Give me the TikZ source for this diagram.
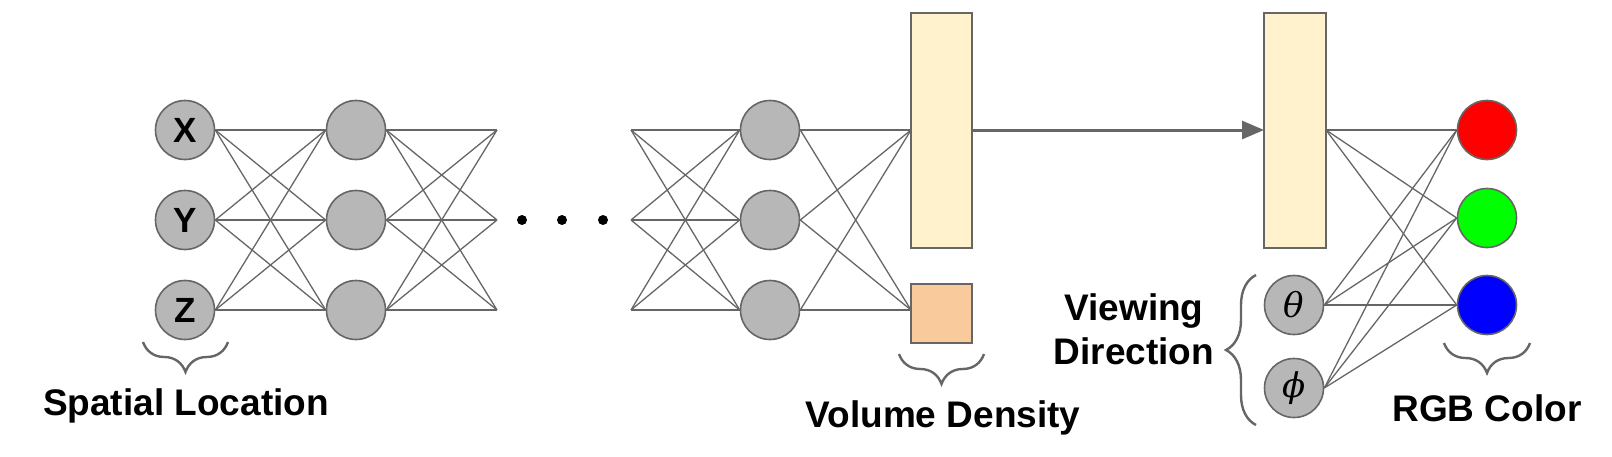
\documentclass[tikz,border=0pt]{standalone}
\usepackage{fontspec}
\setmainfont{Liberation Sans}
\newfontfamily\grk{DejaVu Serif}
\usetikzlibrary{decorations.pathreplacing,arrows.meta}
\definecolor{ln}{HTML}{666666}
\definecolor{nf}{HTML}{B7B7B7}
\begin{document}
\begin{tikzpicture}[x=1pt,y=-1pt,
  neu/.style={circle,draw=ln,line width=1.6pt,fill=nf,minimum size=59pt,inner sep=0pt},
  nl/.style={font=\fontsize{35}{35}\selectfont\bfseries},
  gl/.style={font=\fontsize{34}{34}\selectfont\grk\itshape},
  conn/.style={draw=ln,line width=1.3pt},
  blk/.style={draw=ln,line width=2.6pt},
  br/.style={draw=ln,line width=2.4pt,decorate,decoration={brace,amplitude=30pt}},
  lab/.style={font=\fontsize{37}{44}\selectfont\bfseries,align=center}]
\useasboundingbox (0,0) rectangle (1612,456);
\foreach \i/\y in {1/130,2/220,3/310}{
  \node[neu] (a\i) at (185,\y) {};
  \node[neu] (b\i) at (356,\y) {};
  \coordinate (o\i) at (497,\y);
  \coordinate (s\i) at (631,\y);
  \node[neu] (c\i) at (770,\y) {};
}
\node[nl] at (a1) {X};
\node[nl] at (a2) {Y};
\node[nl] at (a3) {Z};
\foreach \i in {1,2,3}{\foreach \j in {1,2,3}{
  \draw[conn] (a\i.east) -- (b\j.west);
  \draw[conn] (b\i.east) -- (o\j);
  \draw[conn] (s\i) -- (c\j.west);
}}
\foreach \x in {522,562,603}{\fill (\x,220) circle (5pt);}
\node[blk,fill={rgb,255:red,255;green,242;blue,204},minimum width=61pt,minimum height=235pt,inner sep=0pt] (r1) at (941.5,130.5) {};
\node[blk,fill={rgb,255:red,249;green,203;blue,156},minimum width=61pt,minimum height=59pt,inner sep=0pt] (d) at (941.5,313.5) {};
\node[blk,fill={rgb,255:red,255;green,242;blue,204},minimum width=62pt,minimum height=235pt,inner sep=0pt] (r2) at (1295,130.5) {};
\coordinate (r1in) at (911,130);
\coordinate (din) at (911,310);
\coordinate (r2in) at (1264,130);
\coordinate (r1out) at (972,130);
\coordinate (r2out) at (1326,130);
\foreach \i in {1,2,3}{
  \draw[conn] (c\i.east) -- (r1in);
  \draw[conn] (c\i.east) -- (din);
}
\draw[draw=ln,line width=3pt,-{Triangle[length=22pt,width=18pt]}] (r1out) -- (r2in);
\node[neu] (t) at (1294,305) {};
\node[neu] (p) at (1294,388) {};
\node[gl] at (t) {θ};
\node[gl] at (p) {ϕ};
\node[neu,fill=red] (g1) at (1487,130) {};
\node[neu,fill={rgb,255:red,0;green,255;blue,0}] (g2) at (1487,218) {};
\node[neu,fill=blue] (g3) at (1487,305) {};
\foreach \j in {1,2,3}{
  \draw[conn] (r2out) -- (g\j.west);
  \draw[conn] (t.east) -- (g\j.west);
  \draw[conn] (p.east) -- (g\j.west);
}
\draw[br] (228,342) -- (143,342);
\draw[br] (984,354) -- (899,354);
\draw[br] (1530,343) -- (1444,343);
\draw[br] (1256,425) -- (1256,275);
\node[lab] at (186,406) {Spatial Location};
\node[lab] at (943,418) {Volume Density};
\node[lab] at (1487,408) {RGB Color};
\node[lab] at (1134,329) {Viewing\\Direction};
\end{tikzpicture}
\end{document}
